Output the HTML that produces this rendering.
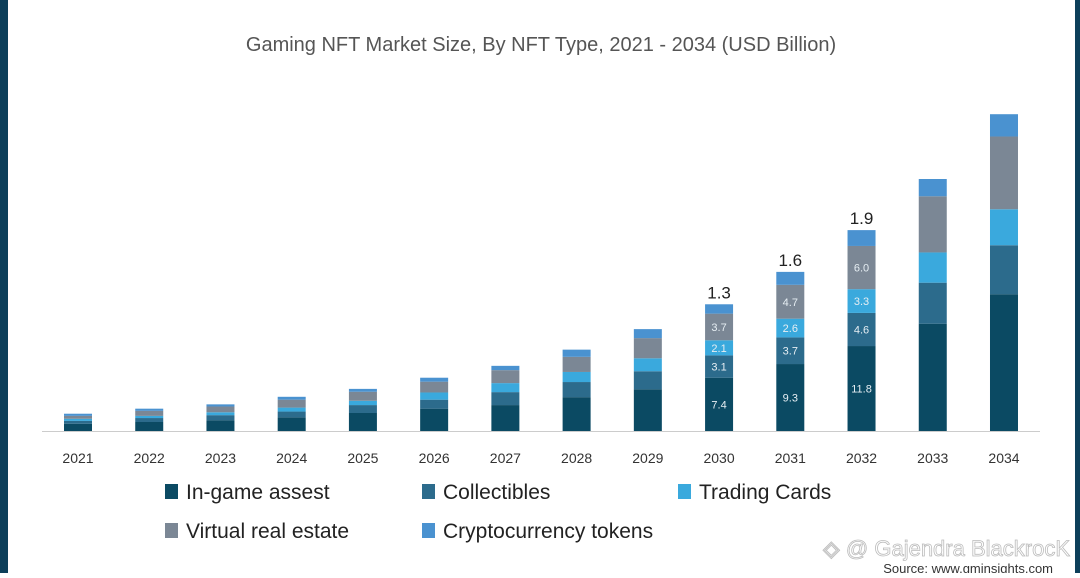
<!DOCTYPE html>
<html><head><meta charset="utf-8"><style>
body{margin:0;width:1080px;height:573px;background:#fff;overflow:hidden;font-family:"Liberation Sans","DejaVu Sans",sans-serif;}
</style></head><body>
<svg id="chart" width="1080" height="573" viewBox="0 0 1080 573">
<rect x="0" y="0" width="8" height="573" fill="#0d3f5a"/>
<rect x="1075" y="0" width="5" height="573" fill="#0d3f5a"/>
<text x="541" y="51" text-anchor="middle" font-size="20" fill="#555">Gaming NFT Market Size, By NFT Type, 2021 - 2034 (USD Billion)</text>
<line x1="42" y1="431.5" x2="1040" y2="431.5" stroke="#ccc" stroke-width="1"/>
<g id="bars"></g>
<g id="xlabels"></g>
<g id="legend"></g>
<text x="1070" y="556" text-anchor="end" font-size="22" fill="#fff" stroke="#bbb" stroke-width="0.8">◈ @ Gajendra BlackrocK</text>
<text x="1053" y="573" text-anchor="end" font-size="13" fill="#333">Source: www.gminsights.com</text>
</svg>
<script>
const years=["2021","2022","2023","2024","2025","2026","2027","2028","2029","2030","2031","2032","2033","2034"];
const ingame=[1.0,1.25,1.5,1.9,2.5,3.1,3.6,4.7,5.8,7.4,9.3,11.8,14.9,19.0];
const collectibles=[0.4,0.55,0.7,0.8,1.1,1.25,1.8,2.1,2.5,3.1,3.7,4.6,5.7,6.8];
const trading=[0.3,0.3,0.4,0.55,0.6,1.0,1.25,1.4,1.8,2.1,2.6,3.3,4.2,5.0];
const virtualRE=[0.4,0.7,0.8,1.1,1.25,1.5,1.8,2.1,2.8,3.7,4.7,6.0,7.8,10.1];
const crypto=[0.3,0.3,0.3,0.4,0.4,0.55,0.6,1.0,1.25,1.3,1.8,2.2,2.4,3.1];
const totalLabels=["","","","","","","","","","1.3","1.6","1.9","",""];
const showValues=[false,false,false,false,false,false,false,false,false,true,true,true,false,false];
const seriesNames=["In-game assest","Collectibles","Trading Cards","Virtual real estate","Cryptocurrency tokens"];
const seriesKeys=["ingame","collectibles","trading","virtual-real-estate","crypto"];
const series=[ingame,collectibles,trading,virtualRE,crypto];
const colors=["#0b4a63","#2c6b8c","#3aa9dd","#7b8795","#4a92d0"];
const NS="http://www.w3.org/2000/svg";
const baseY=431, pxPerUnit=7.2, x0=78, step=71.23, bw=28;
const xc=i=>x0+i*step;
const yh=v=>v*pxPerUnit;
const bars=document.getElementById('bars');
years.forEach((yr,i)=>{
  let y=baseY;
  series.forEach((s,k)=>{
    const h=yh(s[i]);
    y-=h;
    const r=document.createElementNS(NS,'rect');
    r.setAttribute('x',xc(i)-bw/2);r.setAttribute('y',y);r.setAttribute('width',bw);r.setAttribute('height',h);r.setAttribute('fill',colors[k]);
    
    
    bars.appendChild(r);
    if(showValues[i]&&k<4){
      const t=document.createElementNS(NS,'text');
      t.setAttribute('x',xc(i));t.setAttribute('y',y+h/2+4);t.setAttribute('text-anchor','middle');t.setAttribute('font-size','11');t.setAttribute('fill','#e6eef3');
      t.textContent=s[i].toFixed(1);
      
      
      bars.appendChild(t);
    }
  });
  if(totalLabels[i]){
    const t=document.createElementNS(NS,'text');
    t.setAttribute('x',xc(i));t.setAttribute('y',y-6);t.setAttribute('text-anchor','middle');t.setAttribute('font-size','17');t.setAttribute('fill','#222');
    t.textContent=totalLabels[i];
    
    
    bars.appendChild(t);
  }
  const l=document.createElementNS(NS,'text');
  l.setAttribute('x',xc(i));l.setAttribute('y',463);l.setAttribute('text-anchor','middle');l.setAttribute('font-size','14');l.setAttribute('fill','#333');
  l.textContent=yr;
  
  
  document.getElementById('xlabels').appendChild(l);
});
const legPos=[[165,492],[422,492],[678,492],[165,531],[422,531]];
const leg=document.getElementById('legend');
seriesNames.forEach((n,k)=>{
  const g=document.createElementNS(NS,'g');
  
  
  const r=document.createElementNS(NS,'rect');
  r.setAttribute('x',legPos[k][0]);r.setAttribute('y',legPos[k][1]-8);r.setAttribute('width',13);r.setAttribute('height',15);r.setAttribute('fill',colors[k]);
  g.appendChild(r);
  const t=document.createElementNS(NS,'text');
  t.setAttribute('x',legPos[k][0]+21);t.setAttribute('y',legPos[k][1]+7);t.setAttribute('font-size','21');t.setAttribute('fill','#222');
  t.textContent=n;
  g.appendChild(t);
  leg.appendChild(g);
});
</script>
</body></html>
